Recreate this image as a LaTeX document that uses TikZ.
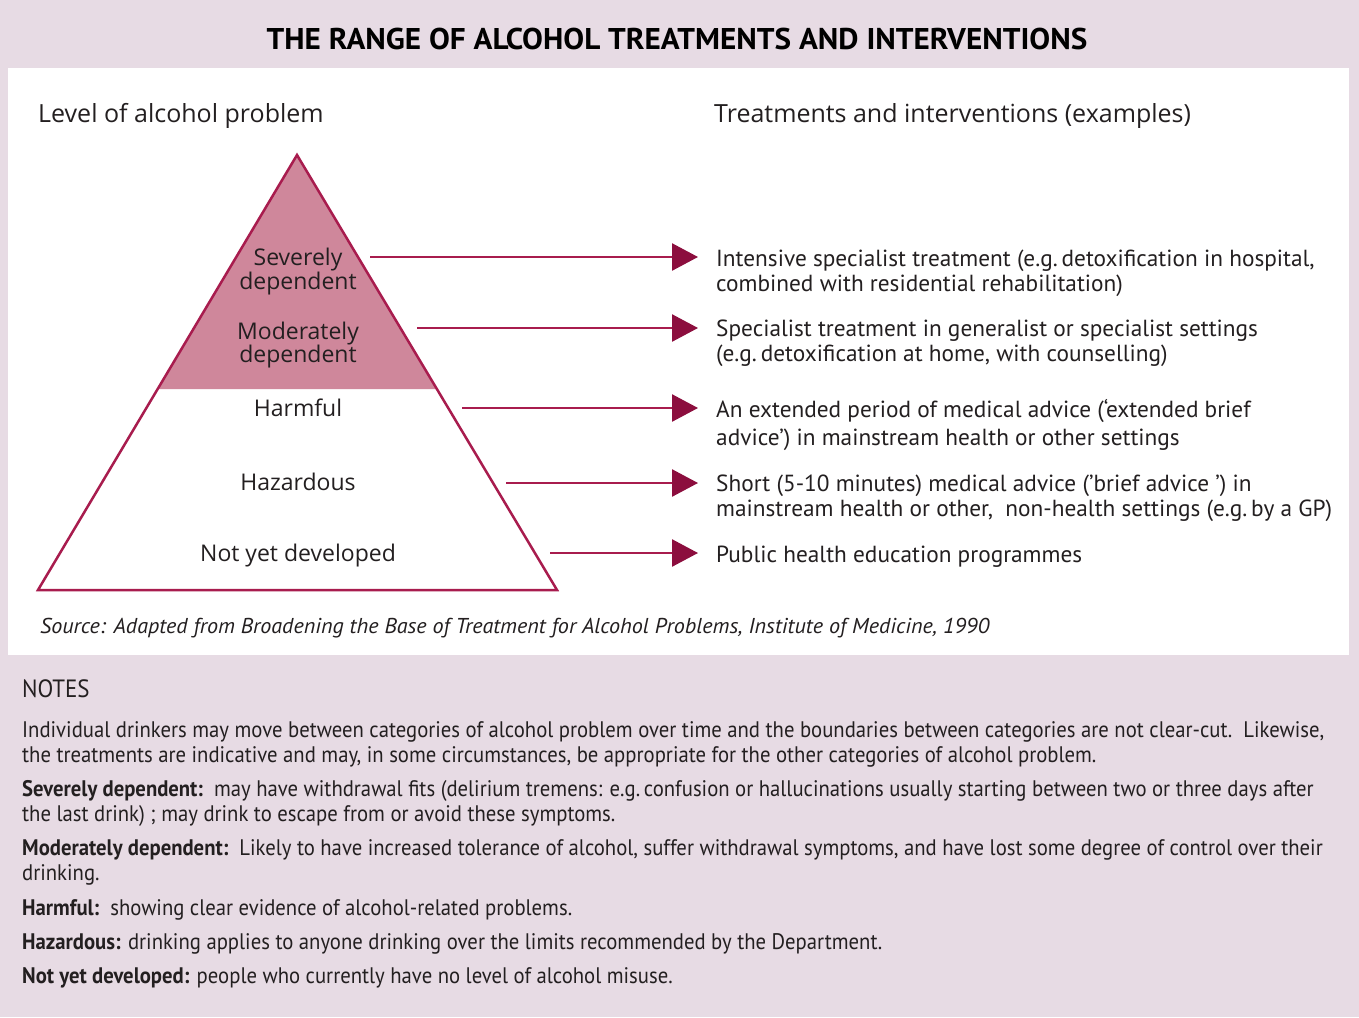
\documentclass[tikz,border=0pt]{standalone}
\usepackage{fontspec}
\setmainfont{Open Sans}
\newfontfamily\treatf[FakeStretch=1.0]{PT Sans}
\newfontfamily\notef[FakeStretch=0.92]{PT Sans}
\newfontfamily\srcf[FakeStretch=1.03]{PT Sans}
\newfontfamily\titlef[FakeStretch=1.04]{PT Sans}
\usetikzlibrary{arrows.meta}
\definecolor{bgpink}{RGB}{231,219,228}
\definecolor{trifill}{RGB}{207,135,155}
\definecolor{triline}{RGB}{168,28,78}
\definecolor{headcol}{RGB}{140,14,62}
\definecolor{txt}{RGB}{35,31,32}
\tikzset{
  lvl/.style={font=\fontsize{23}{25}\selectfont, text=txt, anchor=base, inner sep=0pt},
  head/.style={font=\fontsize{25}{28}\selectfont, text=txt, anchor=base west, inner sep=0pt},
  treat/.style={font=\treatf\fontsize{23.3}{25}\selectfont, text=txt, anchor=base west, inner sep=0pt},
  note/.style={font=\notef\fontsize{22.5}{25}\selectfont, text=txt, anchor=base west, inner sep=0pt},
  conn/.style={draw=triline, line width=2.5pt, -{Triangle[length=26pt 0, width=27pt 0, fill=headcol, color=headcol]}}
}
\begin{document}
\begin{tikzpicture}[x=1pt,y=-1pt]
\useasboundingbox (0,0) rectangle (1359,1017);
\fill[bgpink] (0,0) rectangle (1359,1017);
\fill[white] (8,68) rectangle (1349,655);

\node[font=\titlef\bfseries\fontsize{30}{32}\selectfont, text=black, anchor=base, inner sep=0pt] (title) at (677,49) {THE RANGE OF ALCOHOL TREATMENTS AND INTERVENTIONS};

\node[head] (hl) at (38,122) {Level of alcohol problem};
\node[head] (hr) at (714,122) {Treatments and interventions (examples)};

% pyramid
\fill[trifill] (297,155) -- (158,389) -- (436,389) -- cycle;
\draw[triline, line width=2.5pt, line join=miter] (297,155) -- (557,590) -- (38,590) -- cycle;

\node[lvl] (l1) at (298,265) {Severely};
\node[lvl] (l1b) at (298,289) {dependent};
\node[lvl] (l2) at (298,339) {Moderately};
\node[lvl] (l2b) at (298,362) {dependent};
\node[lvl] (l3) at (298,416) {Harmful};
\node[lvl] (l4) at (298,490) {Hazardous};
\node[lvl] (l5) at (298,561) {Not yet developed};

% treatments
\node[treat] (t1) at (716,266) {Intensive specialist treatment (e.g.\,detoxification in hospital,};
\node[treat] (t1b) at (716,291) {combined with residential rehabilitation)};
\node[treat] (t2) at (716,336) {Specialist treatment in generalist or specialist settings};
\node[treat] (t2b) at (716,361) {(e.g.\,detoxification at home, with counselling)};
\node[treat] (t3) at (716,417) {An extended period of medical advice (‘extended brief};
\node[treat] (t3b) at (716,445) {advice’) in mainstream health or other settings};
\node[treat] (t4) at (716,491) {Short (5-10 minutes) medical advice (’brief advice ’) in};
\node[treat] (t4b) at (716,516) {mainstream health or other,\ \ non-health settings (e.g.\,by a GP)};
\node[treat] (t5) at (716,562) {Public health education programmes};

% connectors
\coordinate (s1) at (370,257); \coordinate (e1) at (698,257);
\coordinate (s2) at (417,328); \coordinate (e2) at (698,328);
\coordinate (s3) at (462,408); \coordinate (e3) at (698,408);
\coordinate (s4) at (506,483); \coordinate (e4) at (698,483);
\coordinate (s5) at (550,553); \coordinate (e5) at (698,553);
\foreach \i in {1,...,5} \draw[conn] (s\i) -- (e\i);

\node[font=\srcf\itshape\fontsize{21.5}{24}\selectfont, text=txt, anchor=base west, inner sep=0pt] (src) at (40,633) {Source: Adapted from Broadening the Base of Treatment for Alcohol Problems, Institute of Medicine, 1990};

% notes
\node[font=\notef\fontsize{25}{28}\selectfont, text=txt, anchor=base west, inner sep=0pt] (notes) at (22,697) {NOTES};
\node[note] (n1) at (22,737) {Individual drinkers may move between categories of alcohol problem over time and the boundaries between categories are not clear-cut.\ \ Likewise,};
\node[note] (n2) at (22,762) {the treatments are indicative and may, in some circumstances, be appropriate for the other categories of alcohol problem.};
\node[note] (n3) at (22,796) {\textbf{Severely dependent:}\ \ may have withdrawal fits (delirium tremens: e.g.\,confusion or hallucinations usually starting between two or three days after};
\node[note] (n4) at (22,821) {the last drink) ; may drink to escape from or avoid these symptoms.};
\node[note] (n5) at (22,855) {\textbf{Moderately dependent:}\ \ Likely to have increased tolerance of alcohol, suffer withdrawal symptoms, and have lost some degree of control over their};
\node[note] (n6) at (22,880) {drinking.};
\node[note] (n7) at (22,915) {\textbf{Harmful:}\ \ showing clear evidence of alcohol-related problems.};
\node[note] (n8) at (22,949) {\textbf{Hazardous:} drinking applies to anyone drinking over the limits recommended by the Department.};
\node[note] (n9) at (22,983) {\textbf{Not yet developed:} people who currently have no level of alcohol misuse.};
\end{tikzpicture}
\end{document}
